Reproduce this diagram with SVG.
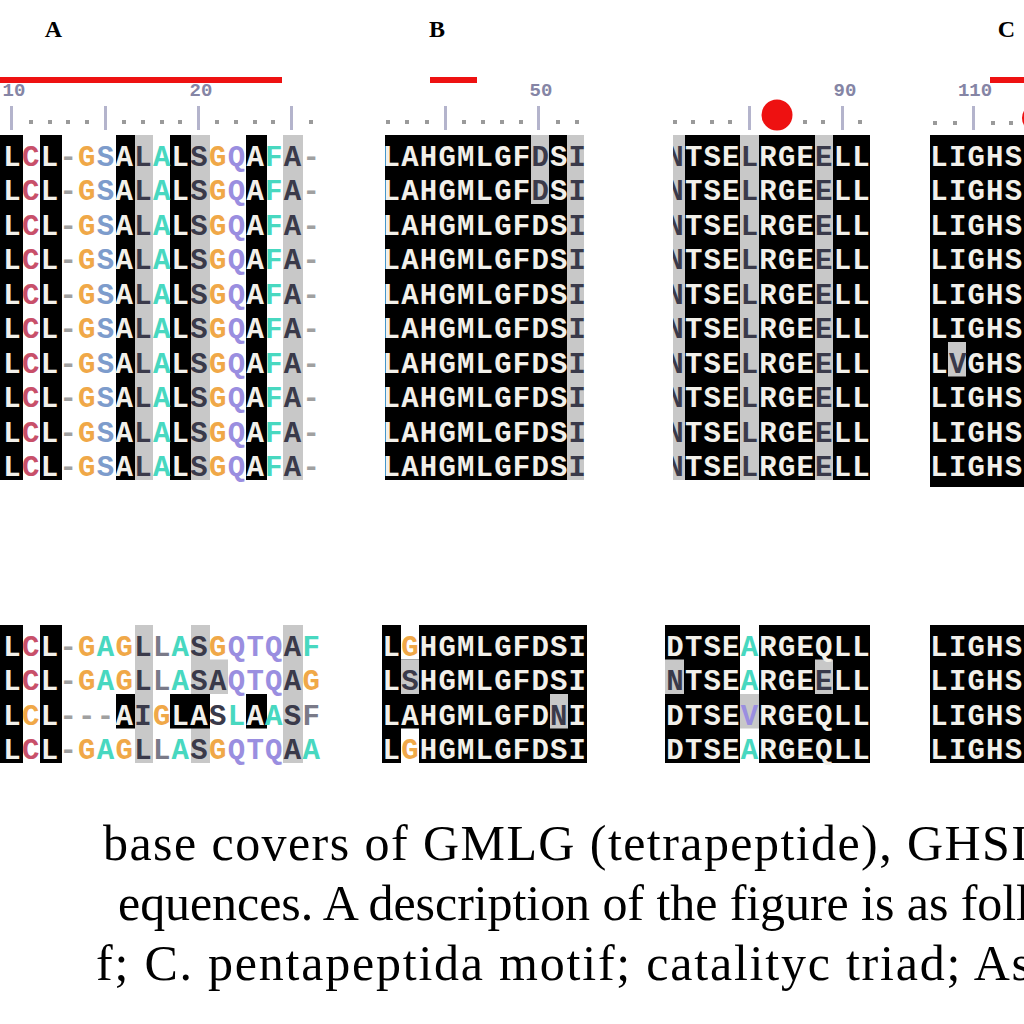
<svg xmlns="http://www.w3.org/2000/svg" xmlns:xlink="http://www.w3.org/1999/xlink" width="1024" height="1024" viewBox="0 0 1024 1024">
<style>
.m{font-family:"Liberation Mono","DejaVu Sans Mono",monospace;font-weight:bold;font-size:29px;text-anchor:middle}
.w{fill:#f2f0ea}.r{fill:#c8506a}.o{fill:#f0a848}.b{fill:#7d9ccc}.t{fill:#48d8c0}.p{fill:#9a8ee0}.d{fill:#a0a0a0}.k{fill:#3a3a4a}.g{fill:#7a7a88}
.blk{fill:#000}.gry{fill:#c8c8c8}.wht{fill:#fff}
.tick{fill:#b4b4cc}.dot{fill:#9a9a9a}
.num{font-family:"Liberation Mono","DejaVu Sans Mono",monospace;font-weight:bold;font-size:19px;fill:#8585a5;text-anchor:middle}
.lab{font-family:"Liberation Serif","Times New Roman",serif;font-weight:bold;font-size:24px;fill:#000;text-anchor:middle}
.cap{font-family:"Liberation Serif","Times New Roman",serif;font-size:50px;fill:#000}
.red{fill:#ee1111}
</style>
<defs>
<g id="rA" class="m">
<text class="w" x="12 49.4 124.2 180.3 255.1" y="30.5">LLALA</text>
<text class="r" x="30.7" y="30.5">C</text>
<text class="d" x="68.1 311.2" y="30.5">--</text>
<text class="o" x="86.8 217.7" y="30.5">GG</text>
<text class="b" x="105.5" y="30.5">S</text>
<text class="k" x="142.9 199 292.5" y="30.5">LSA</text>
<text class="t" x="161.6 273.8" y="30.5">AF</text>
<text class="p" x="236.4" y="30.5">Q</text>
</g>
<g id="rB" class="m">
<text class="w" x="391.3 409.9 428.5 447.1 465.7 484.3 502.9 521.5 558.7" y="30.5">LAHGMLGFS</text>
<text class="k" x="577.3" y="30.5">I</text>
</g>
<g id="rM" class="m">
<text class="k" x="675 749.4 823.8" y="30.5">NLE</text>
<text class="w" x="693.6 712.2 730.8 768 786.6 805.2 842.4 861" y="30.5">TSERGELL</text>
</g>
<g id="rR" class="m">
<text class="w" x="939 976.2 994.8 1013.4" y="30.5">LGHS</text>
</g>
<clipPath id="cM"><rect x="673" y="130" width="200" height="360"/></clipPath>
</defs>

<g id="labels">
<text class="lab" x="53.5" y="37">A</text>
<text class="lab" x="437" y="37">B</text>
<text class="lab" x="1006.5" y="37">C</text>
</g>

<g id="motif-bars">
<rect class="red" x="0" y="77" width="282" height="6"/>
<rect class="red" x="430" y="77" width="47" height="6"/>
<rect class="red" x="990" y="77" width="34" height="6"/>
<circle class="red" cx="777" cy="115" r="15.5"/>
<circle class="red" cx="1036" cy="118" r="14"/>
</g>

<g id="rulers">
<text class="num" x="14" y="96">10</text>
<text class="num" x="201" y="96">20</text>
<text class="num" x="541" y="96">50</text>
<text class="num" x="845" y="96">90</text>
<text class="num" x="975" y="96">110</text>
<rect class="tick" x="10" y="106" width="3" height="24"/>
<rect class="tick" x="104" y="106" width="3" height="24"/>
<rect class="tick" x="197" y="106" width="3" height="24"/>
<rect class="tick" x="290" y="106" width="3" height="24"/>
<g class="dot">
<rect x="29" y="120" width="4" height="4"/><rect x="48" y="120" width="4" height="4"/><rect x="66" y="120" width="4" height="4"/><rect x="85" y="120" width="4" height="4"/>
<rect x="122" y="120" width="4" height="4"/><rect x="141" y="120" width="4" height="4"/><rect x="160" y="120" width="4" height="4"/><rect x="178" y="120" width="4" height="4"/>
<rect x="215" y="120" width="4" height="4"/><rect x="234" y="120" width="4" height="4"/><rect x="253" y="120" width="4" height="4"/><rect x="271" y="120" width="4" height="4"/>
<rect x="309" y="120" width="4" height="4"/>
<rect x="386" y="120" width="4" height="4"/><rect x="405" y="120" width="4" height="4"/><rect x="425" y="120" width="4" height="4"/>
<rect x="462" y="120" width="4" height="4"/><rect x="481" y="120" width="4" height="4"/><rect x="500" y="120" width="4" height="4"/><rect x="519" y="120" width="4" height="4"/>
<rect x="556" y="120" width="4" height="4"/><rect x="575" y="120" width="4" height="4"/>
<rect x="673" y="120" width="4" height="4"/><rect x="691" y="120" width="4" height="4"/><rect x="710" y="120" width="4" height="4"/><rect x="728" y="120" width="4" height="4"/>
<rect x="803" y="120" width="4" height="4"/><rect x="821" y="120" width="4" height="4"/><rect x="858" y="120" width="4" height="4"/>
<rect x="933" y="121" width="4" height="4"/><rect x="953" y="121" width="4" height="4"/><rect x="991" y="121" width="4" height="4"/><rect x="1009" y="121" width="4" height="4"/>
</g>
<rect class="tick" x="444" y="106" width="3" height="24"/>
<rect class="tick" x="537" y="106" width="3" height="24"/>
<rect class="tick" x="748" y="106" width="3" height="24"/>
<rect class="tick" x="841" y="106" width="3" height="24"/>
<rect class="tick" x="972" y="106" width="3" height="24"/>
</g>

<g id="block-A-top">
<rect class="blk" x="0" y="135" width="23" height="345"/>
<rect class="blk" x="40" y="135" width="22" height="345"/>
<rect class="blk" x="116" y="135" width="19" height="345"/>
<rect class="blk" x="170" y="135" width="21" height="345"/>
<rect class="blk" x="246" y="135" width="21" height="345"/>
<rect class="gry" x="135" y="135" width="18" height="345"/>
<rect class="gry" x="191" y="135" width="19" height="345"/>
<rect class="gry" x="283" y="135" width="20" height="345"/>
<use xlink:href="#rA" y="135"/><use xlink:href="#rA" y="169.5"/><use xlink:href="#rA" y="204"/><use xlink:href="#rA" y="238.5"/><use xlink:href="#rA" y="273"/>
<use xlink:href="#rA" y="307.5"/><use xlink:href="#rA" y="342"/><use xlink:href="#rA" y="376.5"/><use xlink:href="#rA" y="411"/><use xlink:href="#rA" y="445.5"/>
</g>

<g id="block-B-top">
<rect class="blk" x="385" y="135" width="182" height="345"/>
<rect class="gry" x="567" y="135" width="17" height="345"/>
<rect class="gry" x="531" y="135" width="18" height="69"/>
<use xlink:href="#rB" y="135"/><use xlink:href="#rB" y="169.5"/><use xlink:href="#rB" y="204"/><use xlink:href="#rB" y="238.5"/><use xlink:href="#rB" y="273"/>
<use xlink:href="#rB" y="307.5"/><use xlink:href="#rB" y="342"/><use xlink:href="#rB" y="376.5"/><use xlink:href="#rB" y="411"/><use xlink:href="#rB" y="445.5"/>
<text class="m k" x="540.1 540.1" y="165.5 200">DD</text>
<text class="m w" x="540.1 540.1 540.1 540.1 540.1 540.1 540.1 540.1" y="234.5 269 303.5 338 372.5 407 441.5 476">DDDDDDDD</text>
</g>

<g id="block-M-top" clip-path="url(#cM)">
<rect class="gry" x="673" y="135" width="12" height="345"/>
<rect class="blk" x="685" y="135" width="55" height="345"/>
<rect class="gry" x="740" y="135" width="19" height="345"/>
<rect class="blk" x="759" y="135" width="56" height="345"/>
<rect class="gry" x="815" y="135" width="18" height="345"/>
<rect class="blk" x="833" y="135" width="37" height="345"/>
<use xlink:href="#rM" y="135"/><use xlink:href="#rM" y="169.5"/><use xlink:href="#rM" y="204"/><use xlink:href="#rM" y="238.5"/><use xlink:href="#rM" y="273"/>
<use xlink:href="#rM" y="307.5"/><use xlink:href="#rM" y="342"/><use xlink:href="#rM" y="376.5"/><use xlink:href="#rM" y="411"/><use xlink:href="#rM" y="445.5"/>
</g>

<g id="block-C-top">
<rect class="blk" x="930" y="135" width="94" height="352"/>
<rect class="gry" x="948" y="342" width="18" height="34.5"/>
<use xlink:href="#rR" y="135"/><use xlink:href="#rR" y="169.5"/><use xlink:href="#rR" y="204"/><use xlink:href="#rR" y="238.5"/><use xlink:href="#rR" y="273"/>
<use xlink:href="#rR" y="307.5"/><use xlink:href="#rR" y="342"/><use xlink:href="#rR" y="376.5"/><use xlink:href="#rR" y="411"/><use xlink:href="#rR" y="445.5"/>
<text class="m w" x="957.6 957.6 957.6 957.6 957.6 957.6 957.6 957.6 957.6" y="165.5 200 234.5 269 303.5 338 407 441.5 476">IIIIIIIII</text>
<text class="m k" x="957.6" y="372.5">V</text>
</g>

<g id="block-A-bottom">
<rect class="blk" x="0" y="625" width="23" height="138"/>
<rect class="blk" x="40" y="625" width="22" height="138"/>
<rect class="gry" x="135" y="625" width="18" height="138"/>
<rect class="gry" x="191" y="625" width="19" height="138"/>
<rect class="gry" x="283" y="625" width="20" height="138"/>
<rect class="gry" x="210" y="659.5" width="18" height="34.5"/>
<rect class="blk" x="116" y="694" width="19" height="34.5"/>
<rect class="blk" x="170" y="694" width="40" height="34.5"/>
<rect class="blk" x="246" y="694" width="21" height="34.5"/>
<g class="m">
<text class="w" x="12 49.4 12 49.4 12 49.4 12 49.4" y="655.5 655.5 690 690 724.5 724.5 759 759">LLLLLLLL</text>
<text class="r" x="30.7 30.7 30.7" y="655.5 690 759">CCC</text>
<text class="o" x="30.7" y="724.5">C</text>
<text class="d" x="68.1 68.1 68.1 68.1 86.8 105.5" y="655.5 690 724.5 759 724.5 724.5">------</text>
<text class="o" x="86.8 124.2 217.7" y="655.5 655.5 655.5">GGG</text>
<text class="t" x="105.5 180.3 311.2" y="655.5 655.5 655.5">AAF</text>
<text class="k" x="142.9 199 292.5" y="655.5 655.5 655.5">LSA</text>
<text class="g" x="161.6" y="655.5">L</text>
<text class="p" x="236.4 255.1 273.8" y="655.5 655.5 655.5">QTQ</text>
<text class="o" x="86.8 124.2 311.2" y="690 690 690">GGG</text>
<text class="t" x="105.5 180.3" y="690 690">AA</text>
<text class="k" x="142.9 199 217.7 292.5" y="690 690 690 690">LSAA</text>
<text class="g" x="161.6" y="690">L</text>
<text class="p" x="236.4 255.1 273.8" y="690 690 690">QTQ</text>
<text class="w" x="124.2 180.3 199 255.1" y="724.5 724.5 724.5 724.5">ALAA</text>
<text class="k" x="142.9 217.7 292.5" y="724.5 724.5 724.5">ISS</text>
<text class="o" x="161.6" y="724.5">G</text>
<text class="t" x="236.4 273.8" y="724.5 724.5">LA</text>
<text class="g" x="311.2" y="724.5">F</text>
<text class="o" x="86.8 124.2 217.7" y="759 759 759">GGG</text>
<text class="t" x="105.5 180.3 311.2" y="759 759 759">AAA</text>
<text class="k" x="142.9 199 292.5" y="759 759 759">LSA</text>
<text class="g" x="161.6" y="759">L</text>
<text class="p" x="236.4 255.1 273.8" y="759 759 759">QTQ</text>
</g>
</g>

<g id="block-B-bottom">
<rect class="blk" x="382" y="625" width="205" height="138"/>
<rect class="wht" x="401" y="625" width="18" height="34.5"/>
<rect class="gry" x="401" y="659.5" width="18" height="34.5"/>
<rect class="gry" x="550" y="694" width="18" height="34.5"/>
<rect class="wht" x="401" y="728.5" width="18" height="34.5"/>
<g class="m">
<text class="w" x="391.3 428.5 447.1 465.7 484.3 502.9 521.5 540.1 558.7 577.3" y="655.5">LHGMLGFDSI</text>
<text class="o" x="409.9" y="655.5">G</text>
<text class="w" x="391.3 428.5 447.1 465.7 484.3 502.9 521.5 540.1 558.7 577.3" y="690">LHGMLGFDSI</text>
<text class="k" x="409.9" y="690">S</text>
<text class="w" x="391.3 409.9 428.5 447.1 465.7 484.3 502.9 521.5 540.1 577.3" y="724.5">LAHGMLGFDI</text>
<text class="k" x="558.7" y="724.5">N</text>
<text class="w" x="391.3 428.5 447.1 465.7 484.3 502.9 521.5 540.1 558.7 577.3" y="759">LHGMLGFDSI</text>
<text class="o" x="409.9" y="759">G</text>
</g>
</g>

<g id="block-M-bottom">
<rect class="blk" x="665" y="625" width="205" height="138"/>
<rect class="wht" x="740" y="625" width="19" height="138"/>
<rect class="gry" x="740" y="694" width="19" height="34.5"/>
<rect class="gry" x="665" y="659.5" width="19" height="34.5"/>
<rect class="gry" x="815" y="659.5" width="18" height="34.5"/>
<g class="m">
<text class="w" x="675 693.6 712.2 730.8 768 786.6 805.2 823.8 842.4 861" y="655.5">DTSERGEQLL</text>
<text class="w" x="693.6 712.2 730.8 768 786.6 805.2 842.4 861" y="690">TSERGELL</text>
<text class="k" x="675 823.8" y="690 690">NE</text>
<text class="w" x="675 693.6 712.2 730.8 768 786.6 805.2 823.8 842.4 861" y="724.5">DTSERGEQLL</text>
<text class="w" x="675 693.6 712.2 730.8 768 786.6 805.2 823.8 842.4 861" y="759">DTSERGEQLL</text>
<text class="t" x="749.4 749.4 749.4" y="655.5 690 759">AAA</text>
<text class="p" x="749.4" y="724.5">V</text>
</g>
</g>

<g id="block-C-bottom">
<rect class="blk" x="930" y="625" width="94" height="138"/>
<use xlink:href="#rR" y="625"/><use xlink:href="#rR" y="659.5"/><use xlink:href="#rR" y="694"/><use xlink:href="#rR" y="728.5"/>
<text class="m w" x="957.6 957.6 957.6 957.6" y="655.5 690 724.5 759">IIII</text>
</g>

<g id="caption">
<text class="cap" x="103" y="860" textLength="925" lengthAdjust="spacing">base covers of GMLG (tetrapeptide), GHSI</text>
<text class="cap" x="118" y="920" textLength="912" lengthAdjust="spacing">equences. A description of the figure is as foll</text>
<text class="cap" x="96" y="980" textLength="935" lengthAdjust="spacing">f; C. pentapeptida motif; catalityc triad; As</text>
</g>
</svg>
